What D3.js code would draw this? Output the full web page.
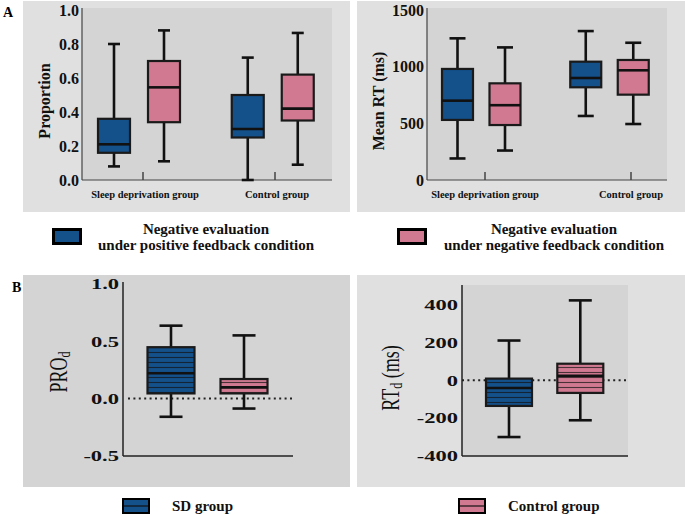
<!DOCTYPE html>
<html>
<head>
<meta charset="utf-8">
<script src="https://cdn.jsdelivr.net/npm/d3@7"></script>
<style>
  body { margin: 0; background: #fff; }
  svg { display: block; font-family: "Liberation Serif", "Times New Roman", serif; }
</style>
</head>
<body>
<div id="chart"></div>
<script>
// box summaries, each as [min, q1, median, q3, max]
const groupsA = ["Sleep deprivation group", "Control group"];
const propPositive = [[0.08, 0.16, 0.21, 0.36, 0.80], [0.0, 0.25, 0.30, 0.50, 0.72]];
const propNegative = [[0.11, 0.34, 0.545, 0.70, 0.88], [0.09, 0.35, 0.42, 0.62, 0.865]];
const rtPositive = [[190, 530, 700, 980, 1250], [565, 818, 900, 1044, 1314]];
const rtNegative = [[260, 485, 660, 853, 1170], [494, 753, 968, 1059, 1211]];

const groupsB = ["SD group", "Control group"];
const proD = [[-0.16, 0.044, 0.22, 0.448, 0.636], [-0.088, 0.044, 0.097, 0.17, 0.551]];
const rtD = [[-301, -136, -41, 9, 211], [-212, -67, 24, 88, 424]];

const propTicks = [0, 0.2, 0.4, 0.6, 0.8, 1.0];
const rtTicks = [0, 500, 1000, 1500];
const proDTicks = [-0.5, 0, 0.5, 1.0];
const rtDTicks = [-400, -200, 0, 200, 400];

const legendA = [
    ["Negative evaluation", "under positive feedback condition"],
    ["Negative evaluation", "under negative feedback condition"]
];

const BLUE = "#14508a";
const PINK = "#d07991";
const OUTER = "#e0e0e0";
const INNER = "#d4d4d4";

const svg = d3.select("#chart").append("svg").attr("width", 685).attr("height", 515);

const defs = svg.append("defs");
const pat = defs.append("pattern").attr("id", "stripes")
    .attr("patternUnits", "userSpaceOnUse").attr("width", 10).attr("height", 5);
pat.append("line").attr("x1", 0).attr("x2", 10).attr("y1", 2.5).attr("y2", 2.5)
    .attr("stroke", "#111").attr("stroke-opacity", 0.7).attr("stroke-width", 1.1);

function drawBox(g, cx, w, capW, s, y, fill, striped) {
    const [mn, q1, md, q3, mx] = s;
    const sw = 2.6;
    g.append("line").attr("x1", cx).attr("x2", cx).attr("y1", y(mx)).attr("y2", y(q3))
        .attr("stroke", "#111").attr("stroke-width", sw);
    g.append("line").attr("x1", cx).attr("x2", cx).attr("y1", y(q1)).attr("y2", y(mn))
        .attr("stroke", "#111").attr("stroke-width", sw);
    [mn, mx].forEach(v => {
        g.append("line").attr("x1", cx - capW / 2).attr("x2", cx + capW / 2)
            .attr("y1", y(v)).attr("y2", y(v)).attr("stroke", "#111").attr("stroke-width", sw);
    });
    g.append("rect").attr("x", cx - w / 2).attr("y", y(q3)).attr("width", w).attr("height", y(q1) - y(q3))
        .attr("fill", fill);
    if (striped) {
        g.append("rect").attr("x", cx - w / 2).attr("y", y(q3)).attr("width", w).attr("height", y(q1) - y(q3))
            .attr("fill", "url(#stripes)");
    }
    g.append("rect").attr("x", cx - w / 2).attr("y", y(q3)).attr("width", w).attr("height", y(q1) - y(q3))
        .attr("fill", "none").attr("stroke", "#1a1a1a").attr("stroke-width", 2.2);
    g.append("line").attr("x1", cx - w / 2).attr("x2", cx + w / 2).attr("y1", y(md)).attr("y2", y(md))
        .attr("stroke", "#111").attr("stroke-width", 2.6);
}

function stretch(sel, k) {
    sel.each(function () {
        const len = this.getComputedTextLength();
        d3.select(this).attr("textLength", len * k).attr("lengthAdjust", "spacingAndGlyphs");
    });
}

// ---------- panel A ----------
function panelA(opt) {
    const g = svg.append("g");
    g.append("rect").attr("x", opt.outer[0]).attr("y", 1).attr("width", opt.outer[1] - opt.outer[0]).attr("height", 211).attr("fill", OUTER);
    g.append("rect").attr("x", opt.left).attr("y", 8).attr("width", opt.right - opt.left).attr("height", 172).attr("fill", INNER);

    const y = d3.scaleLinear().domain(opt.domain).range([180, 10]);
    const xBox = d3.scalePoint().domain(groupsA).range(opt.boxRange);
    const xTick = d3.scalePoint().domain(groupsA).range(opt.tickRange);

    g.append("g").attr("transform", `translate(${opt.left},0)`)
        .call(d3.axisLeft(y).tickValues(opt.ticks).tickSize(0).tickPadding(3).tickFormat(opt.fmt))
        .call(a => a.select(".domain").remove())
        .selectAll("text").attr("font-size", 16).attr("font-weight", "bold").attr("fill", "#111")
        .attr("font-family", "Liberation Serif");

    g.append("line").attr("x1", opt.left).attr("x2", opt.left).attr("y1", 8).attr("y2", 180)
        .attr("stroke", "#444").attr("stroke-width", 1.2);
    g.append("line").attr("x1", opt.left).attr("x2", opt.right).attr("y1", 180).attr("y2", 180)
        .attr("stroke", "#444").attr("stroke-width", 1.2);

    groupsA.forEach(grp => {
        g.append("line").attr("x1", xTick(grp)).attr("x2", xTick(grp)).attr("y1", 172).attr("y2", 180)
            .attr("stroke", "#444").attr("stroke-width", 1.5);
        g.append("text").attr("x", xTick(grp) + opt.labelShift).attr("y", 198).attr("text-anchor", "middle")
            .attr("font-size", 10.5).attr("font-weight", "bold").attr("fill", "#111").text(grp);
    });

    groupsA.forEach((grp, i) => {
        drawBox(g, xBox(grp) - opt.offset, opt.boxW, opt.capW, opt.pos[i], y, BLUE, false);
        drawBox(g, xBox(grp) + opt.offset, opt.boxW, opt.capW, opt.neg[i], y, PINK, false);
    });

    g.append("text").attr("transform", `translate(${opt.labelX},101) rotate(-90)`)
        .attr("text-anchor", "middle").attr("dominant-baseline", "central")
        .attr("font-size", 16).attr("font-weight", "bold").attr("fill", "#111").text(opt.title);
}

panelA({
    outer: [23, 350], left: 82, right: 332, domain: [0, 1], ticks: propTicks,
    fmt: d3.format(".1f"), boxRange: [139, 272.75], tickRange: [143, 275], labelShift: 2,
    offset: 25, boxW: 32, capW: 12, pos: propPositive, neg: propNegative,
    labelX: 44, title: "Proportion"
});
panelA({
    outer: [357, 685], left: 427, right: 667, domain: [0, 1500], ticks: rtTicks,
    fmt: d => String(d), boxRange: [481.25, 609.5], tickRange: [485, 631], labelShift: 0,
    offset: 23.75, boxW: 31, capW: 16, pos: rtPositive, neg: rtNegative,
    labelX: 378, title: "Mean RT (ms)"
});

// legend A
[[52, 206, BLUE], [397, 554, PINK]].forEach(([sx, tx, col], i) => {
    svg.append("rect").attr("x", sx + 1.5).attr("y", 229.5).attr("width", 27).attr("height", 14)
        .attr("fill", col).attr("stroke", "#000").attr("stroke-width", 3);
    legendA[i].forEach((line, j) => {
        svg.append("text").attr("x", tx).attr("y", 234 + j * 16).attr("text-anchor", "middle")
            .attr("font-size", 15).attr("font-weight", "bold").attr("fill", "#111").text(line);
    });
});

svg.append("text").attr("x", 3).attr("y", 17).attr("font-size", 14).attr("font-weight", "bold").text("A");
svg.append("text").attr("x", 12).attr("y", 292).attr("font-size", 14).attr("font-weight", "bold").text("B");

// ---------- panel B ----------
function panelB(opt) {
    const g = svg.append("g");
    g.append("rect").attr("x", opt.outer[0]).attr("y", 275).attr("width", opt.outer[1] - opt.outer[0]).attr("height", 212).attr("fill", opt.outerFill);
    if (opt.inner) {
        g.append("rect").attr("x", opt.left).attr("y", 285).attr("width", opt.right - opt.left).attr("height", 171).attr("fill", INNER);
    }
    const y = d3.scaleLinear().domain(opt.domain).range(opt.yRange);
    const x = d3.scalePoint().domain(groupsB).range(opt.boxRange);

    g.append("line").attr("x1", opt.dotStart).attr("x2", opt.right).attr("y1", y(0)).attr("y2", y(0))
        .attr("stroke", "#222").attr("stroke-width", 2).attr("stroke-dasharray", "2,3.4");

    g.append("g").attr("transform", `translate(${opt.left},0)`)
        .call(d3.axisLeft(y).tickValues(opt.ticks).tickSize(0).tickPadding(4).tickFormat(opt.fmt))
        .call(a => a.select(".domain").remove())
        .selectAll("text").attr("font-size", 15).attr("font-weight", "bold").attr("fill", "#111")
        .attr("font-family", "Liberation Serif")
        .call(s => stretch(s, 1.5));

    g.append("line").attr("x1", opt.left).attr("x2", opt.left).attr("y1", opt.axisTop).attr("y2", 456)
        .attr("stroke", "#222").attr("stroke-width", 1.5);
    g.append("line").attr("x1", opt.left).attr("x2", opt.right).attr("y1", 456).attr("y2", 456)
        .attr("stroke", "#222").attr("stroke-width", 1.5);

    drawBox(g, x(groupsB[0]), opt.boxW, 23, opt.data[0], y, BLUE, true);
    drawBox(g, x(groupsB[1]), opt.boxW, 23, opt.data[1], y, PINK, true);

    const t = g.append("text").attr("transform", `translate(${opt.labelPos[0]},${opt.labelPos[1]}) scale(1.45,1) rotate(-90)`)
        .attr("text-anchor", "middle").attr("dominant-baseline", "central")
        .attr("font-size", 18).attr("fill", "#111");
    t.append("tspan").text(opt.title[0]);
    t.append("tspan").attr("font-size", 12).attr("dy", 4).text(opt.title[1]);
    if (opt.title[2]) t.append("tspan").attr("dy", -4).text(opt.title[2]);
}

panelB({
    outer: [23, 350], outerFill: INNER, inner: false, left: 123, right: 293, axisTop: 282,
    domain: [-0.5, 1], yRange: [455.7, 284], ticks: proDTicks, fmt: d => d.toFixed(1),
    boxRange: [171, 244], boxW: 47, data: proD, dotStart: 128,
    labelPos: [58, 372], title: ["PRO", "d"]
});
panelB({
    outer: [357, 685], outerFill: OUTER, inner: true, left: 462, right: 628, axisTop: 285,
    domain: [-400, 400], yRange: [455.7, 304.9], ticks: rtDTicks, fmt: d => String(d),
    boxRange: [509, 580.3], boxW: 46, data: rtD, dotStart: 462,
    labelPos: [390, 378], title: ["RT", "d", " (ms)"]
});

// legend B
[[122, 172, BLUE, groupsB[0]], [458, 508, PINK, groupsB[1]]].forEach(([sx, tx, col, name]) => {
    svg.append("rect").attr("x", sx + 1).attr("y", 499).attr("width", 26).attr("height", 14)
        .attr("fill", col).attr("stroke", "#000").attr("stroke-width", 2);
    svg.append("line").attr("x1", sx + 2).attr("x2", sx + 26).attr("y1", 506).attr("y2", 506)
        .attr("stroke", "#111").attr("stroke-width", 1.2);
    svg.append("text").attr("x", tx).attr("y", 511)
        .attr("font-size", 15).attr("font-weight", "bold").attr("fill", "#111").text(name);
});
</script>
</body>
</html>
